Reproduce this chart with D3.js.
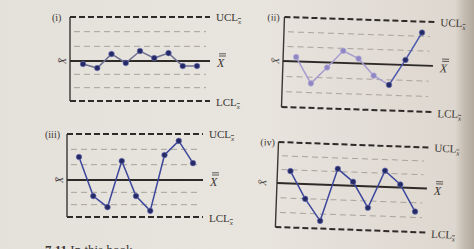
<!DOCTYPE html>
<html>
<head>
<meta charset="utf-8">
<script src="https://cdn.jsdelivr.net/npm/d3@7"></script>
<style>
  body { margin: 0; background: #e6e2dc; }
  svg { display: block; }
  .lbl { font-family: "Liberation Serif", "DejaVu Serif", serif; fill: #3a3632; }
</style>
</head>
<body>
<svg id="chart" width="474" height="249"></svg>
<script>
// sample means in sigma units from the centre line
const samples = [1, 2, 3, 4, 5, 6, 7, 8, 9];
const panelNames = ["(i)", "(ii)", "(iii)", "(iv)"];
const seriesI   = [-0.23, -0.53, 0.48, -0.15, 0.68, 0.2, 0.54, -0.38, -0.38];
const seriesII  = [0.3, -1.4, -0.33, 0.83, 0.33, -0.76, -1.33, 0.35, 2.25];
const seriesIII = [1.5, -1.3, -2.2, 1.24, -1.3, -2.5, 1.63, 2.55, 1.1];
const seriesIV  = [0.91, -1.01, -2.47, 1.2, 0.29, -1.46, 1.19, 0.22, -1.6];
const zoneTicks = [-3, -2, -1, 0, 1, 2, 3];

// panel geometry (photo is slightly skewed on the right hand side)
const layout = [
  {left: 70,  right: 210, top: 17,  mid: 61,  bottom: 101, x0: 83,  x1: 197, rot: 0,   lblX: 52,  axX: 62},
  {left: 283, right: 433, top: 17,  mid: 61,  bottom: 107, x0: 296, x1: 421, rot: 1.9, lblX: 266, axX: 275},
  {left: 67,  right: 203, top: 134, mid: 180, bottom: 217, x0: 79,  x1: 193, rot: 0,   lblX: 45,  axX: 59},
  {left: 277, right: 427, top: 142, mid: 183, bottom: 227, x0: 290, x1: 416, rot: 2.1, lblX: 259, axX: 262}
];
const series = [seriesI, seriesII, seriesIII, seriesIV];

const svg = d3.select("#chart");

// paper shading
const defs = svg.append("defs");
const grad = defs.append("linearGradient").attr("id", "paper").attr("x1", 0).attr("x2", 1);
grad.append("stop").attr("offset", "0%").attr("stop-color", "#e4e0da");
grad.append("stop").attr("offset", "55%").attr("stop-color", "#e8e4de");
grad.append("stop").attr("offset", "96%").attr("stop-color", "#ddd7cf");
grad.append("stop").attr("offset", "98%").attr("stop-color", "#c4bbb0");
grad.append("stop").attr("offset", "100%").attr("stop-color", "#b3a99d");
svg.append("rect").attr("width", 474).attr("height", 249).attr("fill", "url(#paper)");

function limitLabel(g, x, yy, word) {
  const t = g.append("text").attr("class", "lbl").attr("x", x).attr("y", yy)
    .attr("font-size", 11).text(word);
  t.append("tspan").attr("font-size", 7).attr("dy", 3)
    .attr("font-style", "italic").style("text-decoration", "overline").text("x");
}

function drawPanel(i) {
  const L = layout[i], data = series[i];
  const g = svg.append("g")
    .attr("transform", `rotate(${L.rot},${L.left},${L.mid})`);

  const x = d3.scalePoint().domain(samples).range([L.x0, L.x1]);
  const y = d3.scaleLinear().domain([-3, 0, 3]).range([L.bottom, L.mid, L.top]);

  // zone lines (1 and 2 sigma)
  g.selectAll(".zone").data(zoneTicks.filter(d => Math.abs(d) == 1 || Math.abs(d) == 2))
    .enter().append("line")
    .attr("x1", L.left + 4).attr("x2", L.right - 4)
    .attr("y1", d => y(d)).attr("y2", d => y(d))
    .attr("stroke", "#a8a39c").attr("stroke-width", 1)
    .attr("stroke-dasharray", "6,4");

  // control limits
  g.selectAll(".limit").data([-3, 3]).enter().append("line")
    .attr("x1", L.left).attr("x2", L.right)
    .attr("y1", d => y(d)).attr("y2", d => y(d))
    .attr("stroke", "#2e2a28").attr("stroke-width", 2)
    .attr("stroke-dasharray", "6,3");

  // vertical axis
  g.append("line")
    .attr("x1", L.left).attr("x2", L.left)
    .attr("y1", y(3)).attr("y2", y(-3))
    .attr("stroke", "#3a3632").attr("stroke-width", 1.4);

  // centre line
  g.append("line")
    .attr("x1", L.left).attr("x2", L.right)
    .attr("y1", y(0)).attr("y2", y(0))
    .attr("stroke", "#2e2a28").attr("stroke-width", 1.8);

  // series
  const pts = data.map((v, k) => [x(samples[k]), y(v)]);
  const light = "#a59dd0", dark = "#3d479c";
  const lineCol = i == 0 ? "#6c6f8e" : dark;
  if (i == 1) {
    g.append("path").attr("d", d3.line()(pts.slice(0, 7)))
      .attr("fill", "none").attr("stroke", light).attr("stroke-width", 1.5);
    g.append("path").attr("d", d3.line()(pts.slice(6)))
      .attr("fill", "none").attr("stroke", "#4b58ad").attr("stroke-width", 1.5);
  } else {
    g.append("path").attr("d", d3.line()(pts))
      .attr("fill", "none").attr("stroke", lineCol).attr("stroke-width", 1.5);
  }
  g.selectAll(".pt").data(pts).enter().append("circle")
    .attr("cx", d => d[0]).attr("cy", d => d[1]).attr("r", 2.8)
    .attr("fill", (d, k) => i == 1 && k < 6 ? "#8f86c4" : "#252a66")
    .attr("stroke", (d, k) => i == 1 && k < 6 ? "#b7b0da" : "#6f76b8")
    .attr("stroke-width", 0.6);

  // labels
  const lx = L.right + 6;
  limitLabel(g, lx, y(3) + 4, "UCL");
  limitLabel(g, lx, y(-3) + 5, "LCL");

  g.append("text").attr("class", "lbl").attr("x", lx + 1).attr("y", y(0) + 6)
    .attr("font-size", 12).attr("font-style", "italic").text("X");
  [0, 2.2].forEach(off => g.append("line")
    .attr("x1", lx + 3).attr("x2", lx + 10)
    .attr("y1", y(0) - 5 - off).attr("y2", y(0) - 5 - off)
    .attr("stroke", "#3a3632").attr("stroke-width", 0.8));

  g.append("text").attr("class", "lbl").attr("x", L.lblX).attr("y", y(3) + 4)
    .attr("font-size", 10).text(panelNames[i]);

  g.append("text").attr("class", "lbl")
    .attr("transform", `translate(${L.axX + 4},${y(0)})rotate(-90)`)
    .attr("text-anchor", "middle").attr("font-size", 10).attr("font-style", "italic")
    .text("X\u0304");
}

layout.forEach((L, i) => drawPanel(i));

// start of the next exercise on the page (cut by the photo's lower edge)
const foot = svg.append("text").attr("class", "lbl").attr("x", 45).attr("y", 254)
  .attr("font-size", 13).attr("fill", "#2a2622");
foot.append("tspan").attr("font-weight", "bold").text("7.11 ");
foot.append("tspan").text("In this book");
</script>
</body>
</html>
